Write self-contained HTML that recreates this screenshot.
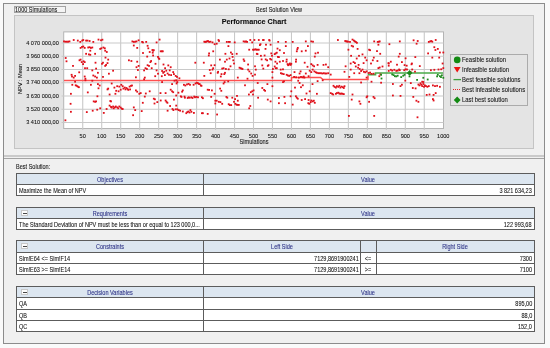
<!DOCTYPE html>
<html><head><meta charset="utf-8">
<style>
*{margin:0;padding:0;box-sizing:border-box}
html,body{width:550px;height:348px;overflow:hidden;background:#fafafa;font-family:"Liberation Sans",sans-serif;font-size:6.3px;color:#141414}
.a{position:absolute}
.t{position:absolute;white-space:nowrap;line-height:1;transform:scaleX(0.88);transform-origin:0 0;-webkit-text-stroke:0.08px currentColor}
.t.r{transform-origin:100% 0}
.t.c{width:120px;text-align:center;transform-origin:50% 0}
</style></head><body>
<div class="a" style="left:3px;top:3px;width:542px;height:341px;border:1px solid #8c8c8c;background:#f0f0f0"></div>
<div class="a" style="left:14px;top:6px;width:52px;height:7px;border:1px solid #a2a2a2;background:#f4f4f4"></div>
<div class="t" style="left:14.6px;top:7.0px;transform:scaleX(0.875)">1000 Simulations</div>
<div class="t" style="left:256px;top:7.3px;">Best Solution View</div>
<div class="a" style="left:14px;top:14.6px;width:520px;height:134.4px;border:1px solid #c4c4c4;background:#e4e4e4"></div>
<div class="t c" style="left:194.00px;top:18.2px;font-size:7.2px;font-weight:bold;color:#0c0c0c;transform:none">Performance Chart</div>
<div class="t r" style="right:491.20px;top:40.5px;font-size:5.6px;transform:none">4 070 000,00</div>
<div class="t r" style="right:491.20px;top:53.7px;font-size:5.6px;transform:none">3 960 000,00</div>
<div class="t r" style="right:491.20px;top:67.0px;font-size:5.6px;transform:none">3 850 000,00</div>
<div class="t r" style="right:491.20px;top:80.3px;font-size:5.6px;transform:none">3 740 000,00</div>
<div class="t r" style="right:491.20px;top:93.5px;font-size:5.6px;transform:none">3 630 000,00</div>
<div class="t r" style="right:491.20px;top:106.8px;font-size:5.6px;transform:none">3 520 000,00</div>
<div class="t r" style="right:491.20px;top:120.1px;font-size:5.6px;transform:none">3 410 000,00</div>
<div class="t c" style="left:22.73px;top:133.7px;font-size:5.6px;transform:none">50</div>
<div class="t c" style="left:41.70px;top:133.7px;font-size:5.6px;transform:none">100</div>
<div class="t c" style="left:60.68px;top:133.7px;font-size:5.6px;transform:none">150</div>
<div class="t c" style="left:79.65px;top:133.7px;font-size:5.6px;transform:none">200</div>
<div class="t c" style="left:98.63px;top:133.7px;font-size:5.6px;transform:none">250</div>
<div class="t c" style="left:117.60px;top:133.7px;font-size:5.6px;transform:none">300</div>
<div class="t c" style="left:136.58px;top:133.7px;font-size:5.6px;transform:none">350</div>
<div class="t c" style="left:155.55px;top:133.7px;font-size:5.6px;transform:none">400</div>
<div class="t c" style="left:174.53px;top:133.7px;font-size:5.6px;transform:none">450</div>
<div class="t c" style="left:193.50px;top:133.7px;font-size:5.6px;transform:none">500</div>
<div class="t c" style="left:212.48px;top:133.7px;font-size:5.6px;transform:none">550</div>
<div class="t c" style="left:231.46px;top:133.7px;font-size:5.6px;transform:none">600</div>
<div class="t c" style="left:250.43px;top:133.7px;font-size:5.6px;transform:none">650</div>
<div class="t c" style="left:269.41px;top:133.7px;font-size:5.6px;transform:none">700</div>
<div class="t c" style="left:288.38px;top:133.7px;font-size:5.6px;transform:none">750</div>
<div class="t c" style="left:307.36px;top:133.7px;font-size:5.6px;transform:none">800</div>
<div class="t c" style="left:326.33px;top:133.7px;font-size:5.6px;transform:none">850</div>
<div class="t c" style="left:345.31px;top:133.7px;font-size:5.6px;transform:none">900</div>
<div class="t c" style="left:364.28px;top:133.7px;font-size:5.6px;transform:none">950</div>
<div class="t c" style="left:383.26px;top:133.7px;font-size:5.6px;transform:none">1000</div>
<div class="t c" style="left:193.90px;top:139.0px;font-size:6.4px">Simulations</div>
<div class="t" style="left:21.3px;top:79px;transform-origin:50% 50%;font-size:5.6px;transform:translate(-50%,-50%) rotate(-90deg)">NPV : Mean</div>
<svg class="a" style="left:0;top:0" width="550" height="348" viewBox="0 0 550 348"><rect x="63.7" y="31.9" width="379.8" height="96.6" fill="#fff" stroke="#b4b4b4" stroke-width="1"/><line x1="82.73" y1="32" x2="82.73" y2="130" stroke="#c9c9c9" stroke-width="1.1"/><line x1="101.7" y1="32" x2="101.7" y2="130" stroke="#c9c9c9" stroke-width="1.1"/><line x1="120.68" y1="32" x2="120.68" y2="130" stroke="#c9c9c9" stroke-width="1.1"/><line x1="139.65" y1="32" x2="139.65" y2="130" stroke="#c9c9c9" stroke-width="1.1"/><line x1="158.63" y1="32" x2="158.63" y2="130" stroke="#c9c9c9" stroke-width="1.1"/><line x1="177.6" y1="32" x2="177.6" y2="130" stroke="#c9c9c9" stroke-width="1.1"/><line x1="196.58" y1="32" x2="196.58" y2="130" stroke="#c9c9c9" stroke-width="1.1"/><line x1="215.55" y1="32" x2="215.55" y2="130" stroke="#c9c9c9" stroke-width="1.1"/><line x1="234.53" y1="32" x2="234.53" y2="130" stroke="#c9c9c9" stroke-width="1.1"/><line x1="253.5" y1="32" x2="253.5" y2="130" stroke="#c9c9c9" stroke-width="1.1"/><line x1="272.48" y1="32" x2="272.48" y2="130" stroke="#c9c9c9" stroke-width="1.1"/><line x1="291.46" y1="32" x2="291.46" y2="130" stroke="#c9c9c9" stroke-width="1.1"/><line x1="310.43" y1="32" x2="310.43" y2="130" stroke="#c9c9c9" stroke-width="1.1"/><line x1="329.41" y1="32" x2="329.41" y2="130" stroke="#c9c9c9" stroke-width="1.1"/><line x1="348.38" y1="32" x2="348.38" y2="130" stroke="#c9c9c9" stroke-width="1.1"/><line x1="367.36" y1="32" x2="367.36" y2="130" stroke="#c9c9c9" stroke-width="1.1"/><line x1="386.33" y1="32" x2="386.33" y2="130" stroke="#c9c9c9" stroke-width="1.1"/><line x1="405.31" y1="32" x2="405.31" y2="130" stroke="#c9c9c9" stroke-width="1.1"/><line x1="424.28" y1="32" x2="424.28" y2="130" stroke="#c9c9c9" stroke-width="1.1"/><line x1="61.5" y1="42.95" x2="443.5" y2="42.95" stroke="#c9c9c9" stroke-width="1.1"/><line x1="61.5" y1="56.22" x2="443.5" y2="56.22" stroke="#c9c9c9" stroke-width="1.1"/><line x1="61.5" y1="69.49" x2="443.5" y2="69.49" stroke="#c9c9c9" stroke-width="1.1"/><line x1="61.5" y1="82.76" x2="443.5" y2="82.76" stroke="#c9c9c9" stroke-width="1.1"/><line x1="61.5" y1="96.03" x2="443.5" y2="96.03" stroke="#c9c9c9" stroke-width="1.1"/><line x1="61.5" y1="109.3" x2="443.5" y2="109.3" stroke="#c9c9c9" stroke-width="1.1"/><line x1="61.5" y1="122.57" x2="443.5" y2="122.57" stroke="#c9c9c9" stroke-width="1.1"/><polyline points="64,80.5 291.5,80.5 291.5,77.4 320.5,77.4 323,79.5 368,79.5 368,75.5" fill="none" stroke="#ff5050" stroke-width="1.5"/><polyline points="368,74.6 375.5,74.6 375.5,73 443,73" fill="none" stroke="#4aab4a" stroke-width="1.6"/><rect x="63.1" y="40.5" width="1.8" height="1.8" fill="#e0101a"/><rect x="64.5" y="40.8" width="1.8" height="1.8" fill="#e0101a"/><rect x="65.9" y="40.8" width="1.8" height="1.8" fill="#e0101a"/><rect x="67.2" y="40.8" width="1.8" height="1.8" fill="#e0101a"/><rect x="68.6" y="40.5" width="1.8" height="1.8" fill="#e0101a"/><rect x="72.8" y="39.1" width="1.8" height="1.8" fill="#e0101a"/><rect x="76.9" y="39.7" width="1.8" height="1.8" fill="#e0101a"/><rect x="79.4" y="41.0" width="1.8" height="1.8" fill="#e0101a"/><rect x="81.3" y="39.7" width="1.8" height="1.8" fill="#e0101a"/><rect x="82.4" y="39.1" width="1.8" height="1.8" fill="#e0101a"/><rect x="85.2" y="39.7" width="1.8" height="1.8" fill="#e0101a"/><rect x="86.6" y="39.7" width="1.8" height="1.8" fill="#e0101a"/><rect x="88.7" y="40.1" width="1.8" height="1.8" fill="#e0101a"/><rect x="92.4" y="41.0" width="1.8" height="1.8" fill="#e0101a"/><rect x="97.6" y="38.7" width="1.8" height="1.8" fill="#e0101a"/><rect x="100.1" y="39.4" width="1.8" height="1.8" fill="#e0101a"/><rect x="101.5" y="38.8" width="1.8" height="1.8" fill="#e0101a"/><rect x="131.5" y="40.5" width="1.8" height="1.8" fill="#e0101a"/><rect x="132.9" y="41.0" width="1.8" height="1.8" fill="#e0101a"/><rect x="134.3" y="40.8" width="1.8" height="1.8" fill="#e0101a"/><rect x="135.6" y="40.5" width="1.8" height="1.8" fill="#e0101a"/><rect x="137.7" y="39.4" width="1.8" height="1.8" fill="#e0101a"/><rect x="79.7" y="47.0" width="1.8" height="1.8" fill="#e0101a"/><rect x="81.1" y="46.0" width="1.8" height="1.8" fill="#e0101a"/><rect x="82.4" y="45.6" width="1.8" height="1.8" fill="#e0101a"/><rect x="83.8" y="47.0" width="1.8" height="1.8" fill="#e0101a"/><rect x="87.3" y="46.6" width="1.8" height="1.8" fill="#e0101a"/><rect x="88.7" y="46.3" width="1.8" height="1.8" fill="#e0101a"/><rect x="90.0" y="47.0" width="1.8" height="1.8" fill="#e0101a"/><rect x="91.4" y="46.6" width="1.8" height="1.8" fill="#e0101a"/><rect x="99.3" y="48.0" width="1.8" height="1.8" fill="#e0101a"/><rect x="100.4" y="47.4" width="1.8" height="1.8" fill="#e0101a"/><rect x="102.5" y="46.6" width="1.8" height="1.8" fill="#e0101a"/><rect x="103.9" y="47.4" width="1.8" height="1.8" fill="#e0101a"/><rect x="132.9" y="44.6" width="1.8" height="1.8" fill="#e0101a"/><rect x="136.3" y="47.0" width="1.8" height="1.8" fill="#e0101a"/><rect x="89.4" y="49.8" width="1.8" height="1.8" fill="#e0101a"/><rect x="85.2" y="52.9" width="1.8" height="1.8" fill="#e0101a"/><rect x="88.0" y="53.5" width="1.8" height="1.8" fill="#e0101a"/><rect x="89.4" y="53.9" width="1.8" height="1.8" fill="#e0101a"/><rect x="94.2" y="52.9" width="1.8" height="1.8" fill="#e0101a"/><rect x="104.3" y="49.8" width="1.8" height="1.8" fill="#e0101a"/><rect x="105.9" y="51.1" width="1.8" height="1.8" fill="#e0101a"/><rect x="64.8" y="57.1" width="1.8" height="1.8" fill="#e0101a"/><rect x="65.6" y="60.4" width="1.8" height="1.8" fill="#e0101a"/><rect x="78.6" y="59.4" width="1.8" height="1.8" fill="#e0101a"/><rect x="79.7" y="58.7" width="1.8" height="1.8" fill="#e0101a"/><rect x="80.8" y="61.2" width="1.8" height="1.8" fill="#e0101a"/><rect x="82.7" y="60.4" width="1.8" height="1.8" fill="#e0101a"/><rect x="83.8" y="61.2" width="1.8" height="1.8" fill="#e0101a"/><rect x="94.6" y="61.8" width="1.8" height="1.8" fill="#e0101a"/><rect x="101.1" y="62.9" width="1.8" height="1.8" fill="#e0101a"/><rect x="102.1" y="61.8" width="1.8" height="1.8" fill="#e0101a"/><rect x="104.6" y="56.7" width="1.8" height="1.8" fill="#e0101a"/><rect x="107.3" y="58.7" width="1.8" height="1.8" fill="#e0101a"/><rect x="128.0" y="59.4" width="1.8" height="1.8" fill="#e0101a"/><rect x="130.5" y="60.1" width="1.8" height="1.8" fill="#e0101a"/><rect x="136.3" y="60.8" width="1.8" height="1.8" fill="#e0101a"/><rect x="72.1" y="65.0" width="1.8" height="1.8" fill="#e0101a"/><rect x="82.2" y="63.2" width="1.8" height="1.8" fill="#e0101a"/><rect x="84.1" y="67.3" width="1.8" height="1.8" fill="#e0101a"/><rect x="86.3" y="67.3" width="1.8" height="1.8" fill="#e0101a"/><rect x="91.4" y="69.5" width="1.8" height="1.8" fill="#e0101a"/><rect x="95.2" y="67.7" width="1.8" height="1.8" fill="#e0101a"/><rect x="104.3" y="65.0" width="1.8" height="1.8" fill="#e0101a"/><rect x="105.2" y="64.0" width="1.8" height="1.8" fill="#e0101a"/><rect x="106.6" y="62.2" width="1.8" height="1.8" fill="#e0101a"/><rect x="112.2" y="69.8" width="1.8" height="1.8" fill="#e0101a"/><rect x="135.6" y="66.3" width="1.8" height="1.8" fill="#e0101a"/><rect x="137.7" y="65.0" width="1.8" height="1.8" fill="#e0101a"/><rect x="137.0" y="69.1" width="1.8" height="1.8" fill="#e0101a"/><rect x="78.3" y="71.4" width="1.8" height="1.8" fill="#e0101a"/><rect x="97.0" y="71.9" width="1.8" height="1.8" fill="#e0101a"/><rect x="92.4" y="74.6" width="1.8" height="1.8" fill="#e0101a"/><rect x="94.2" y="75.6" width="1.8" height="1.8" fill="#e0101a"/><rect x="96.0" y="76.7" width="1.8" height="1.8" fill="#e0101a"/><rect x="70.7" y="73.9" width="1.8" height="1.8" fill="#e0101a"/><rect x="71.1" y="75.6" width="1.8" height="1.8" fill="#e0101a"/><rect x="72.8" y="76.7" width="1.8" height="1.8" fill="#e0101a"/><rect x="74.2" y="75.0" width="1.8" height="1.8" fill="#e0101a"/><rect x="83.8" y="75.6" width="1.8" height="1.8" fill="#e0101a"/><rect x="84.5" y="77.8" width="1.8" height="1.8" fill="#e0101a"/><rect x="102.1" y="76.0" width="1.8" height="1.8" fill="#e0101a"/><rect x="108.0" y="72.8" width="1.8" height="1.8" fill="#e0101a"/><rect x="135.0" y="76.4" width="1.8" height="1.8" fill="#e0101a"/><rect x="74.2" y="80.8" width="1.8" height="1.8" fill="#e0101a"/><rect x="84.5" y="79.4" width="1.8" height="1.8" fill="#e0101a"/><rect x="91.4" y="79.8" width="1.8" height="1.8" fill="#e0101a"/><rect x="71.4" y="83.9" width="1.8" height="1.8" fill="#e0101a"/><rect x="74.8" y="84.4" width="1.8" height="1.8" fill="#e0101a"/><rect x="75.8" y="84.9" width="1.8" height="1.8" fill="#e0101a"/><rect x="76.9" y="85.7" width="1.8" height="1.8" fill="#e0101a"/><rect x="78.0" y="86.3" width="1.8" height="1.8" fill="#e0101a"/><rect x="90.0" y="83.9" width="1.8" height="1.8" fill="#e0101a"/><rect x="97.0" y="83.2" width="1.8" height="1.8" fill="#e0101a"/><rect x="98.8" y="84.6" width="1.8" height="1.8" fill="#e0101a"/><rect x="110.8" y="82.6" width="1.8" height="1.8" fill="#e0101a"/><rect x="113.5" y="86.7" width="1.8" height="1.8" fill="#e0101a"/><rect x="116.3" y="85.3" width="1.8" height="1.8" fill="#e0101a"/><rect x="118.4" y="85.7" width="1.8" height="1.8" fill="#e0101a"/><rect x="120.4" y="83.9" width="1.8" height="1.8" fill="#e0101a"/><rect x="121.8" y="85.3" width="1.8" height="1.8" fill="#e0101a"/><rect x="122.5" y="87.7" width="1.8" height="1.8" fill="#e0101a"/><rect x="123.9" y="86.7" width="1.8" height="1.8" fill="#e0101a"/><rect x="124.6" y="88.5" width="1.8" height="1.8" fill="#e0101a"/><rect x="125.6" y="87.1" width="1.8" height="1.8" fill="#e0101a"/><rect x="126.7" y="88.1" width="1.8" height="1.8" fill="#e0101a"/><rect x="127.4" y="89.0" width="1.8" height="1.8" fill="#e0101a"/><rect x="128.7" y="85.7" width="1.8" height="1.8" fill="#e0101a"/><rect x="130.1" y="84.9" width="1.8" height="1.8" fill="#e0101a"/><rect x="131.1" y="84.6" width="1.8" height="1.8" fill="#e0101a"/><rect x="129.2" y="88.5" width="1.8" height="1.8" fill="#e0101a"/><rect x="119.8" y="88.8" width="1.8" height="1.8" fill="#e0101a"/><rect x="135.0" y="89.5" width="1.8" height="1.8" fill="#e0101a"/><rect x="136.3" y="90.8" width="1.8" height="1.8" fill="#e0101a"/><rect x="138.4" y="92.9" width="1.8" height="1.8" fill="#e0101a"/><rect x="97.6" y="87.4" width="1.8" height="1.8" fill="#e0101a"/><rect x="106.6" y="88.5" width="1.8" height="1.8" fill="#e0101a"/><rect x="107.3" y="87.7" width="1.8" height="1.8" fill="#e0101a"/><rect x="70.0" y="92.9" width="1.8" height="1.8" fill="#e0101a"/><rect x="86.9" y="91.5" width="1.8" height="1.8" fill="#e0101a"/><rect x="108.7" y="93.6" width="1.8" height="1.8" fill="#e0101a"/><rect x="114.5" y="92.9" width="1.8" height="1.8" fill="#e0101a"/><rect x="115.3" y="89.9" width="1.8" height="1.8" fill="#e0101a"/><rect x="117.7" y="90.4" width="1.8" height="1.8" fill="#e0101a"/><rect x="96.5" y="95.4" width="1.8" height="1.8" fill="#e0101a"/><rect x="92.8" y="100.5" width="1.8" height="1.8" fill="#e0101a"/><rect x="94.2" y="100.9" width="1.8" height="1.8" fill="#e0101a"/><rect x="95.2" y="100.5" width="1.8" height="1.8" fill="#e0101a"/><rect x="109.4" y="100.1" width="1.8" height="1.8" fill="#e0101a"/><rect x="110.1" y="100.5" width="1.8" height="1.8" fill="#e0101a"/><rect x="69.7" y="102.9" width="1.8" height="1.8" fill="#e0101a"/><rect x="108.7" y="104.7" width="1.8" height="1.8" fill="#e0101a"/><rect x="110.1" y="106.0" width="1.8" height="1.8" fill="#e0101a"/><rect x="110.8" y="106.7" width="1.8" height="1.8" fill="#e0101a"/><rect x="112.2" y="105.6" width="1.8" height="1.8" fill="#e0101a"/><rect x="112.8" y="107.4" width="1.8" height="1.8" fill="#e0101a"/><rect x="114.0" y="106.5" width="1.8" height="1.8" fill="#e0101a"/><rect x="114.9" y="105.6" width="1.8" height="1.8" fill="#e0101a"/><rect x="116.3" y="106.5" width="1.8" height="1.8" fill="#e0101a"/><rect x="117.3" y="107.4" width="1.8" height="1.8" fill="#e0101a"/><rect x="118.4" y="105.6" width="1.8" height="1.8" fill="#e0101a"/><rect x="119.8" y="106.7" width="1.8" height="1.8" fill="#e0101a"/><rect x="120.9" y="107.8" width="1.8" height="1.8" fill="#e0101a"/><rect x="121.8" y="108.1" width="1.8" height="1.8" fill="#e0101a"/><rect x="105.7" y="108.1" width="1.8" height="1.8" fill="#e0101a"/><rect x="99.3" y="107.4" width="1.8" height="1.8" fill="#e0101a"/><rect x="96.3" y="108.8" width="1.8" height="1.8" fill="#e0101a"/><rect x="91.8" y="109.8" width="1.8" height="1.8" fill="#e0101a"/><rect x="85.9" y="111.2" width="1.8" height="1.8" fill="#e0101a"/><rect x="70.0" y="110.9" width="1.8" height="1.8" fill="#e0101a"/><rect x="132.9" y="106.5" width="1.8" height="1.8" fill="#e0101a"/><rect x="134.3" y="109.2" width="1.8" height="1.8" fill="#e0101a"/><rect x="102.9" y="112.0" width="1.8" height="1.8" fill="#e0101a"/><rect x="132.2" y="114.3" width="1.8" height="1.8" fill="#e0101a"/><rect x="64.5" y="119.4" width="1.8" height="1.8" fill="#e0101a"/><rect x="141.2" y="41.0" width="1.8" height="1.8" fill="#e0101a"/><rect x="142.1" y="41.5" width="1.8" height="1.8" fill="#e0101a"/><rect x="145.3" y="41.0" width="1.8" height="1.8" fill="#e0101a"/><rect x="155.7" y="41.5" width="1.8" height="1.8" fill="#e0101a"/><rect x="158.7" y="38.7" width="1.8" height="1.8" fill="#e0101a"/><rect x="203.4" y="40.8" width="1.8" height="1.8" fill="#e0101a"/><rect x="204.3" y="41.0" width="1.8" height="1.8" fill="#e0101a"/><rect x="205.2" y="40.8" width="1.8" height="1.8" fill="#e0101a"/><rect x="206.1" y="40.5" width="1.8" height="1.8" fill="#e0101a"/><rect x="207.1" y="40.1" width="1.8" height="1.8" fill="#e0101a"/><rect x="208.2" y="41.0" width="1.8" height="1.8" fill="#e0101a"/><rect x="209.6" y="40.8" width="1.8" height="1.8" fill="#e0101a"/><rect x="211.6" y="41.5" width="1.8" height="1.8" fill="#e0101a"/><rect x="213.7" y="43.3" width="1.8" height="1.8" fill="#e0101a"/><rect x="146.7" y="44.9" width="1.8" height="1.8" fill="#e0101a"/><rect x="147.4" y="47.4" width="1.8" height="1.8" fill="#e0101a"/><rect x="148.8" y="51.1" width="1.8" height="1.8" fill="#e0101a"/><rect x="151.5" y="49.1" width="1.8" height="1.8" fill="#e0101a"/><rect x="152.2" y="49.8" width="1.8" height="1.8" fill="#e0101a"/><rect x="152.9" y="49.3" width="1.8" height="1.8" fill="#e0101a"/><rect x="151.8" y="51.8" width="1.8" height="1.8" fill="#e0101a"/><rect x="142.1" y="52.1" width="1.8" height="1.8" fill="#e0101a"/><rect x="159.8" y="50.4" width="1.8" height="1.8" fill="#e0101a"/><rect x="160.9" y="50.4" width="1.8" height="1.8" fill="#e0101a"/><rect x="161.9" y="50.4" width="1.8" height="1.8" fill="#e0101a"/><rect x="146.3" y="55.7" width="1.8" height="1.8" fill="#e0101a"/><rect x="152.2" y="54.6" width="1.8" height="1.8" fill="#e0101a"/><rect x="157.1" y="56.0" width="1.8" height="1.8" fill="#e0101a"/><rect x="157.8" y="57.4" width="1.8" height="1.8" fill="#e0101a"/><rect x="158.4" y="58.0" width="1.8" height="1.8" fill="#e0101a"/><rect x="208.2" y="52.5" width="1.8" height="1.8" fill="#e0101a"/><rect x="207.9" y="54.6" width="1.8" height="1.8" fill="#e0101a"/><rect x="212.3" y="50.4" width="1.8" height="1.8" fill="#e0101a"/><rect x="150.2" y="60.1" width="1.8" height="1.8" fill="#e0101a"/><rect x="149.5" y="61.2" width="1.8" height="1.8" fill="#e0101a"/><rect x="154.6" y="62.9" width="1.8" height="1.8" fill="#e0101a"/><rect x="146.7" y="64.3" width="1.8" height="1.8" fill="#e0101a"/><rect x="148.1" y="65.0" width="1.8" height="1.8" fill="#e0101a"/><rect x="144.6" y="67.3" width="1.8" height="1.8" fill="#e0101a"/><rect x="146.0" y="68.1" width="1.8" height="1.8" fill="#e0101a"/><rect x="143.2" y="69.5" width="1.8" height="1.8" fill="#e0101a"/><rect x="150.8" y="67.3" width="1.8" height="1.8" fill="#e0101a"/><rect x="162.6" y="63.6" width="1.8" height="1.8" fill="#e0101a"/><rect x="167.4" y="64.5" width="1.8" height="1.8" fill="#e0101a"/><rect x="169.8" y="66.3" width="1.8" height="1.8" fill="#e0101a"/><rect x="164.2" y="67.3" width="1.8" height="1.8" fill="#e0101a"/><rect x="155.7" y="69.5" width="1.8" height="1.8" fill="#e0101a"/><rect x="161.2" y="70.1" width="1.8" height="1.8" fill="#e0101a"/><rect x="162.3" y="71.9" width="1.8" height="1.8" fill="#e0101a"/><rect x="163.3" y="70.9" width="1.8" height="1.8" fill="#e0101a"/><rect x="165.4" y="69.8" width="1.8" height="1.8" fill="#e0101a"/><rect x="168.8" y="69.5" width="1.8" height="1.8" fill="#e0101a"/><rect x="172.3" y="71.2" width="1.8" height="1.8" fill="#e0101a"/><rect x="194.4" y="61.8" width="1.8" height="1.8" fill="#e0101a"/><rect x="202.9" y="61.8" width="1.8" height="1.8" fill="#e0101a"/><rect x="210.3" y="64.5" width="1.8" height="1.8" fill="#e0101a"/><rect x="213.7" y="64.3" width="1.8" height="1.8" fill="#e0101a"/><rect x="212.3" y="67.3" width="1.8" height="1.8" fill="#e0101a"/><rect x="211.6" y="68.7" width="1.8" height="1.8" fill="#e0101a"/><rect x="157.1" y="72.8" width="1.8" height="1.8" fill="#e0101a"/><rect x="166.7" y="72.6" width="1.8" height="1.8" fill="#e0101a"/><rect x="168.1" y="73.9" width="1.8" height="1.8" fill="#e0101a"/><rect x="170.2" y="74.2" width="1.8" height="1.8" fill="#e0101a"/><rect x="173.0" y="73.2" width="1.8" height="1.8" fill="#e0101a"/><rect x="174.8" y="75.0" width="1.8" height="1.8" fill="#e0101a"/><rect x="176.1" y="76.0" width="1.8" height="1.8" fill="#e0101a"/><rect x="178.5" y="77.4" width="1.8" height="1.8" fill="#e0101a"/><rect x="154.3" y="75.3" width="1.8" height="1.8" fill="#e0101a"/><rect x="160.9" y="75.3" width="1.8" height="1.8" fill="#e0101a"/><rect x="164.0" y="74.2" width="1.8" height="1.8" fill="#e0101a"/><rect x="143.9" y="76.7" width="1.8" height="1.8" fill="#e0101a"/><rect x="143.2" y="78.4" width="1.8" height="1.8" fill="#e0101a"/><rect x="203.4" y="75.0" width="1.8" height="1.8" fill="#e0101a"/><rect x="209.8" y="72.3" width="1.8" height="1.8" fill="#e0101a"/><rect x="208.9" y="69.1" width="1.8" height="1.8" fill="#e0101a"/><rect x="161.2" y="81.2" width="1.8" height="1.8" fill="#e0101a"/><rect x="173.6" y="79.8" width="1.8" height="1.8" fill="#e0101a"/><rect x="175.3" y="79.4" width="1.8" height="1.8" fill="#e0101a"/><rect x="176.4" y="81.2" width="1.8" height="1.8" fill="#e0101a"/><rect x="175.7" y="82.6" width="1.8" height="1.8" fill="#e0101a"/><rect x="171.2" y="83.2" width="1.8" height="1.8" fill="#e0101a"/><rect x="183.0" y="83.9" width="1.8" height="1.8" fill="#e0101a"/><rect x="184.4" y="84.6" width="1.8" height="1.8" fill="#e0101a"/><rect x="186.1" y="83.5" width="1.8" height="1.8" fill="#e0101a"/><rect x="187.7" y="83.0" width="1.8" height="1.8" fill="#e0101a"/><rect x="189.1" y="83.9" width="1.8" height="1.8" fill="#e0101a"/><rect x="192.7" y="83.9" width="1.8" height="1.8" fill="#e0101a"/><rect x="194.6" y="82.6" width="1.8" height="1.8" fill="#e0101a"/><rect x="195.8" y="81.9" width="1.8" height="1.8" fill="#e0101a"/><rect x="196.9" y="82.1" width="1.8" height="1.8" fill="#e0101a"/><rect x="197.8" y="83.0" width="1.8" height="1.8" fill="#e0101a"/><rect x="198.8" y="83.2" width="1.8" height="1.8" fill="#e0101a"/><rect x="199.9" y="84.6" width="1.8" height="1.8" fill="#e0101a"/><rect x="200.6" y="84.9" width="1.8" height="1.8" fill="#e0101a"/><rect x="139.8" y="92.2" width="1.8" height="1.8" fill="#e0101a"/><rect x="144.9" y="92.6" width="1.8" height="1.8" fill="#e0101a"/><rect x="148.8" y="90.4" width="1.8" height="1.8" fill="#e0101a"/><rect x="159.6" y="92.2" width="1.8" height="1.8" fill="#e0101a"/><rect x="164.7" y="92.2" width="1.8" height="1.8" fill="#e0101a"/><rect x="169.8" y="88.8" width="1.8" height="1.8" fill="#e0101a"/><rect x="171.2" y="90.4" width="1.8" height="1.8" fill="#e0101a"/><rect x="172.3" y="91.3" width="1.8" height="1.8" fill="#e0101a"/><rect x="181.2" y="90.8" width="1.8" height="1.8" fill="#e0101a"/><rect x="181.9" y="89.5" width="1.8" height="1.8" fill="#e0101a"/><rect x="177.5" y="91.8" width="1.8" height="1.8" fill="#e0101a"/><rect x="175.3" y="94.6" width="1.8" height="1.8" fill="#e0101a"/><rect x="179.9" y="95.4" width="1.8" height="1.8" fill="#e0101a"/><rect x="180.6" y="96.0" width="1.8" height="1.8" fill="#e0101a"/><rect x="183.6" y="95.7" width="1.8" height="1.8" fill="#e0101a"/><rect x="184.0" y="96.8" width="1.8" height="1.8" fill="#e0101a"/><rect x="186.8" y="97.1" width="1.8" height="1.8" fill="#e0101a"/><rect x="187.7" y="96.4" width="1.8" height="1.8" fill="#e0101a"/><rect x="188.8" y="96.8" width="1.8" height="1.8" fill="#e0101a"/><rect x="190.5" y="96.4" width="1.8" height="1.8" fill="#e0101a"/><rect x="191.6" y="97.1" width="1.8" height="1.8" fill="#e0101a"/><rect x="193.3" y="95.7" width="1.8" height="1.8" fill="#e0101a"/><rect x="194.1" y="96.4" width="1.8" height="1.8" fill="#e0101a"/><rect x="195.5" y="96.0" width="1.8" height="1.8" fill="#e0101a"/><rect x="197.1" y="96.4" width="1.8" height="1.8" fill="#e0101a"/><rect x="201.0" y="96.4" width="1.8" height="1.8" fill="#e0101a"/><rect x="202.0" y="97.3" width="1.8" height="1.8" fill="#e0101a"/><rect x="206.8" y="88.8" width="1.8" height="1.8" fill="#e0101a"/><rect x="208.2" y="89.0" width="1.8" height="1.8" fill="#e0101a"/><rect x="211.0" y="89.5" width="1.8" height="1.8" fill="#e0101a"/><rect x="213.7" y="92.9" width="1.8" height="1.8" fill="#e0101a"/><rect x="210.3" y="96.0" width="1.8" height="1.8" fill="#e0101a"/><rect x="143.9" y="95.7" width="1.8" height="1.8" fill="#e0101a"/><rect x="152.9" y="97.8" width="1.8" height="1.8" fill="#e0101a"/><rect x="154.0" y="98.4" width="1.8" height="1.8" fill="#e0101a"/><rect x="153.6" y="102.6" width="1.8" height="1.8" fill="#e0101a"/><rect x="156.4" y="101.2" width="1.8" height="1.8" fill="#e0101a"/><rect x="159.8" y="99.6" width="1.8" height="1.8" fill="#e0101a"/><rect x="164.7" y="99.6" width="1.8" height="1.8" fill="#e0101a"/><rect x="165.6" y="100.9" width="1.8" height="1.8" fill="#e0101a"/><rect x="166.5" y="101.9" width="1.8" height="1.8" fill="#e0101a"/><rect x="173.0" y="98.7" width="1.8" height="1.8" fill="#e0101a"/><rect x="141.9" y="101.9" width="1.8" height="1.8" fill="#e0101a"/><rect x="169.2" y="105.1" width="1.8" height="1.8" fill="#e0101a"/><rect x="175.3" y="104.7" width="1.8" height="1.8" fill="#e0101a"/><rect x="214.4" y="99.8" width="1.8" height="1.8" fill="#e0101a"/><rect x="214.4" y="102.6" width="1.8" height="1.8" fill="#e0101a"/><rect x="140.8" y="110.2" width="1.8" height="1.8" fill="#e0101a"/><rect x="166.7" y="109.8" width="1.8" height="1.8" fill="#e0101a"/><rect x="171.6" y="108.1" width="1.8" height="1.8" fill="#e0101a"/><rect x="172.5" y="109.2" width="1.8" height="1.8" fill="#e0101a"/><rect x="174.8" y="108.4" width="1.8" height="1.8" fill="#e0101a"/><rect x="176.4" y="108.4" width="1.8" height="1.8" fill="#e0101a"/><rect x="177.8" y="109.2" width="1.8" height="1.8" fill="#e0101a"/><rect x="179.2" y="109.8" width="1.8" height="1.8" fill="#e0101a"/><rect x="181.9" y="110.6" width="1.8" height="1.8" fill="#e0101a"/><rect x="185.4" y="112.3" width="1.8" height="1.8" fill="#e0101a"/><rect x="186.4" y="111.2" width="1.8" height="1.8" fill="#e0101a"/><rect x="187.5" y="110.6" width="1.8" height="1.8" fill="#e0101a"/><rect x="188.6" y="111.6" width="1.8" height="1.8" fill="#e0101a"/><rect x="189.5" y="109.2" width="1.8" height="1.8" fill="#e0101a"/><rect x="190.5" y="110.9" width="1.8" height="1.8" fill="#e0101a"/><rect x="193.0" y="112.0" width="1.8" height="1.8" fill="#e0101a"/><rect x="201.0" y="112.3" width="1.8" height="1.8" fill="#e0101a"/><rect x="202.0" y="112.3" width="1.8" height="1.8" fill="#e0101a"/><rect x="206.8" y="113.0" width="1.8" height="1.8" fill="#e0101a"/><rect x="217.6" y="39.1" width="1.8" height="1.8" fill="#e0101a"/><rect x="218.1" y="40.1" width="1.8" height="1.8" fill="#e0101a"/><rect x="225.9" y="41.0" width="1.8" height="1.8" fill="#e0101a"/><rect x="227.8" y="41.0" width="1.8" height="1.8" fill="#e0101a"/><rect x="228.9" y="41.0" width="1.8" height="1.8" fill="#e0101a"/><rect x="233.8" y="41.5" width="1.8" height="1.8" fill="#e0101a"/><rect x="242.7" y="40.5" width="1.8" height="1.8" fill="#e0101a"/><rect x="244.1" y="40.8" width="1.8" height="1.8" fill="#e0101a"/><rect x="245.2" y="40.5" width="1.8" height="1.8" fill="#e0101a"/><rect x="246.2" y="41.0" width="1.8" height="1.8" fill="#e0101a"/><rect x="249.4" y="39.1" width="1.8" height="1.8" fill="#e0101a"/><rect x="251.3" y="41.5" width="1.8" height="1.8" fill="#e0101a"/><rect x="253.5" y="39.1" width="1.8" height="1.8" fill="#e0101a"/><rect x="257.9" y="39.1" width="1.8" height="1.8" fill="#e0101a"/><rect x="262.1" y="39.1" width="1.8" height="1.8" fill="#e0101a"/><rect x="262.8" y="39.1" width="1.8" height="1.8" fill="#e0101a"/><rect x="268.3" y="39.1" width="1.8" height="1.8" fill="#e0101a"/><rect x="268.7" y="39.7" width="1.8" height="1.8" fill="#e0101a"/><rect x="277.3" y="41.0" width="1.8" height="1.8" fill="#e0101a"/><rect x="284.9" y="41.0" width="1.8" height="1.8" fill="#e0101a"/><rect x="215.8" y="42.8" width="1.8" height="1.8" fill="#e0101a"/><rect x="227.5" y="45.2" width="1.8" height="1.8" fill="#e0101a"/><rect x="248.3" y="48.8" width="1.8" height="1.8" fill="#e0101a"/><rect x="252.1" y="48.8" width="1.8" height="1.8" fill="#e0101a"/><rect x="253.1" y="48.8" width="1.8" height="1.8" fill="#e0101a"/><rect x="254.5" y="48.4" width="1.8" height="1.8" fill="#e0101a"/><rect x="255.4" y="48.8" width="1.8" height="1.8" fill="#e0101a"/><rect x="256.6" y="48.8" width="1.8" height="1.8" fill="#e0101a"/><rect x="257.9" y="48.8" width="1.8" height="1.8" fill="#e0101a"/><rect x="259.0" y="44.2" width="1.8" height="1.8" fill="#e0101a"/><rect x="259.6" y="43.3" width="1.8" height="1.8" fill="#e0101a"/><rect x="265.1" y="43.8" width="1.8" height="1.8" fill="#e0101a"/><rect x="269.7" y="43.8" width="1.8" height="1.8" fill="#e0101a"/><rect x="264.6" y="48.0" width="1.8" height="1.8" fill="#e0101a"/><rect x="276.6" y="47.7" width="1.8" height="1.8" fill="#e0101a"/><rect x="278.9" y="49.3" width="1.8" height="1.8" fill="#e0101a"/><rect x="284.9" y="45.2" width="1.8" height="1.8" fill="#e0101a"/><rect x="224.5" y="52.9" width="1.8" height="1.8" fill="#e0101a"/><rect x="230.0" y="51.6" width="1.8" height="1.8" fill="#e0101a"/><rect x="231.4" y="53.2" width="1.8" height="1.8" fill="#e0101a"/><rect x="235.8" y="52.9" width="1.8" height="1.8" fill="#e0101a"/><rect x="255.9" y="52.9" width="1.8" height="1.8" fill="#e0101a"/><rect x="256.6" y="53.2" width="1.8" height="1.8" fill="#e0101a"/><rect x="270.4" y="52.5" width="1.8" height="1.8" fill="#e0101a"/><rect x="273.8" y="53.2" width="1.8" height="1.8" fill="#e0101a"/><rect x="274.8" y="52.5" width="1.8" height="1.8" fill="#e0101a"/><rect x="275.9" y="51.8" width="1.8" height="1.8" fill="#e0101a"/><rect x="283.1" y="52.1" width="1.8" height="1.8" fill="#e0101a"/><rect x="231.7" y="56.0" width="1.8" height="1.8" fill="#e0101a"/><rect x="219.0" y="58.7" width="1.8" height="1.8" fill="#e0101a"/><rect x="224.1" y="60.8" width="1.8" height="1.8" fill="#e0101a"/><rect x="225.9" y="58.7" width="1.8" height="1.8" fill="#e0101a"/><rect x="228.6" y="57.6" width="1.8" height="1.8" fill="#e0101a"/><rect x="232.4" y="59.4" width="1.8" height="1.8" fill="#e0101a"/><rect x="233.1" y="62.6" width="1.8" height="1.8" fill="#e0101a"/><rect x="242.7" y="58.5" width="1.8" height="1.8" fill="#e0101a"/><rect x="243.4" y="60.1" width="1.8" height="1.8" fill="#e0101a"/><rect x="247.2" y="63.6" width="1.8" height="1.8" fill="#e0101a"/><rect x="260.0" y="54.9" width="1.8" height="1.8" fill="#e0101a"/><rect x="263.7" y="54.6" width="1.8" height="1.8" fill="#e0101a"/><rect x="260.7" y="58.5" width="1.8" height="1.8" fill="#e0101a"/><rect x="264.8" y="58.5" width="1.8" height="1.8" fill="#e0101a"/><rect x="266.2" y="59.4" width="1.8" height="1.8" fill="#e0101a"/><rect x="269.3" y="58.0" width="1.8" height="1.8" fill="#e0101a"/><rect x="270.4" y="58.7" width="1.8" height="1.8" fill="#e0101a"/><rect x="271.1" y="54.9" width="1.8" height="1.8" fill="#e0101a"/><rect x="274.5" y="60.8" width="1.8" height="1.8" fill="#e0101a"/><rect x="276.2" y="62.6" width="1.8" height="1.8" fill="#e0101a"/><rect x="277.0" y="56.0" width="1.8" height="1.8" fill="#e0101a"/><rect x="278.0" y="56.2" width="1.8" height="1.8" fill="#e0101a"/><rect x="278.9" y="60.8" width="1.8" height="1.8" fill="#e0101a"/><rect x="282.1" y="60.1" width="1.8" height="1.8" fill="#e0101a"/><rect x="285.6" y="60.8" width="1.8" height="1.8" fill="#e0101a"/><rect x="286.7" y="63.2" width="1.8" height="1.8" fill="#e0101a"/><rect x="287.2" y="64.3" width="1.8" height="1.8" fill="#e0101a"/><rect x="288.1" y="63.6" width="1.8" height="1.8" fill="#e0101a"/><rect x="289.0" y="62.6" width="1.8" height="1.8" fill="#e0101a"/><rect x="289.7" y="64.0" width="1.8" height="1.8" fill="#e0101a"/><rect x="290.4" y="62.9" width="1.8" height="1.8" fill="#e0101a"/><rect x="285.8" y="58.7" width="1.8" height="1.8" fill="#e0101a"/><rect x="267.6" y="64.3" width="1.8" height="1.8" fill="#e0101a"/><rect x="261.4" y="64.5" width="1.8" height="1.8" fill="#e0101a"/><rect x="221.3" y="67.7" width="1.8" height="1.8" fill="#e0101a"/><rect x="222.7" y="67.3" width="1.8" height="1.8" fill="#e0101a"/><rect x="225.0" y="68.1" width="1.8" height="1.8" fill="#e0101a"/><rect x="227.8" y="68.4" width="1.8" height="1.8" fill="#e0101a"/><rect x="229.6" y="65.4" width="1.8" height="1.8" fill="#e0101a"/><rect x="238.6" y="66.8" width="1.8" height="1.8" fill="#e0101a"/><rect x="239.7" y="67.3" width="1.8" height="1.8" fill="#e0101a"/><rect x="240.7" y="67.7" width="1.8" height="1.8" fill="#e0101a"/><rect x="241.6" y="68.1" width="1.8" height="1.8" fill="#e0101a"/><rect x="247.2" y="68.7" width="1.8" height="1.8" fill="#e0101a"/><rect x="254.1" y="65.4" width="1.8" height="1.8" fill="#e0101a"/><rect x="254.9" y="68.7" width="1.8" height="1.8" fill="#e0101a"/><rect x="262.4" y="67.7" width="1.8" height="1.8" fill="#e0101a"/><rect x="266.9" y="65.0" width="1.8" height="1.8" fill="#e0101a"/><rect x="272.0" y="68.1" width="1.8" height="1.8" fill="#e0101a"/><rect x="273.8" y="65.6" width="1.8" height="1.8" fill="#e0101a"/><rect x="274.8" y="67.3" width="1.8" height="1.8" fill="#e0101a"/><rect x="275.9" y="67.3" width="1.8" height="1.8" fill="#e0101a"/><rect x="279.8" y="68.7" width="1.8" height="1.8" fill="#e0101a"/><rect x="282.1" y="68.4" width="1.8" height="1.8" fill="#e0101a"/><rect x="216.8" y="71.9" width="1.8" height="1.8" fill="#e0101a"/><rect x="217.2" y="70.9" width="1.8" height="1.8" fill="#e0101a"/><rect x="220.6" y="73.2" width="1.8" height="1.8" fill="#e0101a"/><rect x="219.9" y="75.6" width="1.8" height="1.8" fill="#e0101a"/><rect x="223.4" y="73.2" width="1.8" height="1.8" fill="#e0101a"/><rect x="224.1" y="71.9" width="1.8" height="1.8" fill="#e0101a"/><rect x="248.5" y="70.5" width="1.8" height="1.8" fill="#e0101a"/><rect x="250.3" y="72.6" width="1.8" height="1.8" fill="#e0101a"/><rect x="251.7" y="75.0" width="1.8" height="1.8" fill="#e0101a"/><rect x="254.1" y="73.7" width="1.8" height="1.8" fill="#e0101a"/><rect x="236.9" y="76.7" width="1.8" height="1.8" fill="#e0101a"/><rect x="246.6" y="77.8" width="1.8" height="1.8" fill="#e0101a"/><rect x="271.5" y="71.2" width="1.8" height="1.8" fill="#e0101a"/><rect x="280.0" y="72.3" width="1.8" height="1.8" fill="#e0101a"/><rect x="281.2" y="72.8" width="1.8" height="1.8" fill="#e0101a"/><rect x="282.8" y="73.2" width="1.8" height="1.8" fill="#e0101a"/><rect x="285.8" y="73.9" width="1.8" height="1.8" fill="#e0101a"/><rect x="287.0" y="74.6" width="1.8" height="1.8" fill="#e0101a"/><rect x="288.3" y="75.0" width="1.8" height="1.8" fill="#e0101a"/><rect x="289.7" y="74.2" width="1.8" height="1.8" fill="#e0101a"/><rect x="271.5" y="76.7" width="1.8" height="1.8" fill="#e0101a"/><rect x="222.7" y="82.6" width="1.8" height="1.8" fill="#e0101a"/><rect x="223.7" y="81.2" width="1.8" height="1.8" fill="#e0101a"/><rect x="227.3" y="80.5" width="1.8" height="1.8" fill="#e0101a"/><rect x="244.1" y="84.4" width="1.8" height="1.8" fill="#e0101a"/><rect x="256.8" y="82.1" width="1.8" height="1.8" fill="#e0101a"/><rect x="266.5" y="83.2" width="1.8" height="1.8" fill="#e0101a"/><rect x="271.5" y="85.3" width="1.8" height="1.8" fill="#e0101a"/><rect x="282.1" y="81.2" width="1.8" height="1.8" fill="#e0101a"/><rect x="283.1" y="80.5" width="1.8" height="1.8" fill="#e0101a"/><rect x="219.2" y="87.7" width="1.8" height="1.8" fill="#e0101a"/><rect x="220.4" y="89.9" width="1.8" height="1.8" fill="#e0101a"/><rect x="261.4" y="87.1" width="1.8" height="1.8" fill="#e0101a"/><rect x="263.2" y="89.0" width="1.8" height="1.8" fill="#e0101a"/><rect x="264.2" y="89.9" width="1.8" height="1.8" fill="#e0101a"/><rect x="290.4" y="90.4" width="1.8" height="1.8" fill="#e0101a"/><rect x="248.0" y="93.6" width="1.8" height="1.8" fill="#e0101a"/><rect x="249.9" y="91.3" width="1.8" height="1.8" fill="#e0101a"/><rect x="251.3" y="90.4" width="1.8" height="1.8" fill="#e0101a"/><rect x="252.7" y="89.5" width="1.8" height="1.8" fill="#e0101a"/><rect x="252.1" y="93.6" width="1.8" height="1.8" fill="#e0101a"/><rect x="236.1" y="95.0" width="1.8" height="1.8" fill="#e0101a"/><rect x="225.5" y="96.0" width="1.8" height="1.8" fill="#e0101a"/><rect x="226.4" y="96.8" width="1.8" height="1.8" fill="#e0101a"/><rect x="231.4" y="96.8" width="1.8" height="1.8" fill="#e0101a"/><rect x="234.2" y="98.2" width="1.8" height="1.8" fill="#e0101a"/><rect x="257.2" y="96.8" width="1.8" height="1.8" fill="#e0101a"/><rect x="266.9" y="98.7" width="1.8" height="1.8" fill="#e0101a"/><rect x="269.7" y="100.5" width="1.8" height="1.8" fill="#e0101a"/><rect x="278.0" y="97.1" width="1.8" height="1.8" fill="#e0101a"/><rect x="283.5" y="96.0" width="1.8" height="1.8" fill="#e0101a"/><rect x="289.7" y="95.4" width="1.8" height="1.8" fill="#e0101a"/><rect x="215.8" y="99.8" width="1.8" height="1.8" fill="#e0101a"/><rect x="217.9" y="100.9" width="1.8" height="1.8" fill="#e0101a"/><rect x="219.5" y="101.2" width="1.8" height="1.8" fill="#e0101a"/><rect x="221.3" y="102.9" width="1.8" height="1.8" fill="#e0101a"/><rect x="227.8" y="103.3" width="1.8" height="1.8" fill="#e0101a"/><rect x="228.9" y="104.2" width="1.8" height="1.8" fill="#e0101a"/><rect x="230.3" y="104.2" width="1.8" height="1.8" fill="#e0101a"/><rect x="233.1" y="100.9" width="1.8" height="1.8" fill="#e0101a"/><rect x="234.4" y="102.9" width="1.8" height="1.8" fill="#e0101a"/><rect x="235.6" y="103.7" width="1.8" height="1.8" fill="#e0101a"/><rect x="236.5" y="104.0" width="1.8" height="1.8" fill="#e0101a"/><rect x="237.9" y="104.0" width="1.8" height="1.8" fill="#e0101a"/><rect x="236.9" y="99.8" width="1.8" height="1.8" fill="#e0101a"/><rect x="249.4" y="105.1" width="1.8" height="1.8" fill="#e0101a"/><rect x="248.3" y="107.4" width="1.8" height="1.8" fill="#e0101a"/><rect x="278.0" y="102.3" width="1.8" height="1.8" fill="#e0101a"/><rect x="284.2" y="102.3" width="1.8" height="1.8" fill="#e0101a"/><rect x="216.2" y="113.6" width="1.8" height="1.8" fill="#e0101a"/><rect x="291.8" y="41.0" width="1.8" height="1.8" fill="#e0101a"/><rect x="304.9" y="40.5" width="1.8" height="1.8" fill="#e0101a"/><rect x="310.4" y="40.5" width="1.8" height="1.8" fill="#e0101a"/><rect x="312.1" y="40.8" width="1.8" height="1.8" fill="#e0101a"/><rect x="337.0" y="39.1" width="1.8" height="1.8" fill="#e0101a"/><rect x="344.3" y="40.1" width="1.8" height="1.8" fill="#e0101a"/><rect x="345.3" y="40.5" width="1.8" height="1.8" fill="#e0101a"/><rect x="346.1" y="40.5" width="1.8" height="1.8" fill="#e0101a"/><rect x="347.1" y="40.8" width="1.8" height="1.8" fill="#e0101a"/><rect x="349.1" y="41.0" width="1.8" height="1.8" fill="#e0101a"/><rect x="351.6" y="38.7" width="1.8" height="1.8" fill="#e0101a"/><rect x="353.0" y="39.7" width="1.8" height="1.8" fill="#e0101a"/><rect x="354.0" y="40.5" width="1.8" height="1.8" fill="#e0101a"/><rect x="354.9" y="41.0" width="1.8" height="1.8" fill="#e0101a"/><rect x="356.0" y="41.9" width="1.8" height="1.8" fill="#e0101a"/><rect x="296.9" y="47.0" width="1.8" height="1.8" fill="#e0101a"/><rect x="296.4" y="48.4" width="1.8" height="1.8" fill="#e0101a"/><rect x="295.9" y="50.4" width="1.8" height="1.8" fill="#e0101a"/><rect x="300.8" y="50.4" width="1.8" height="1.8" fill="#e0101a"/><rect x="304.9" y="49.8" width="1.8" height="1.8" fill="#e0101a"/><rect x="307.0" y="45.2" width="1.8" height="1.8" fill="#e0101a"/><rect x="350.8" y="44.9" width="1.8" height="1.8" fill="#e0101a"/><rect x="352.2" y="45.6" width="1.8" height="1.8" fill="#e0101a"/><rect x="356.7" y="48.0" width="1.8" height="1.8" fill="#e0101a"/><rect x="347.5" y="48.8" width="1.8" height="1.8" fill="#e0101a"/><rect x="314.6" y="52.5" width="1.8" height="1.8" fill="#e0101a"/><rect x="317.1" y="51.8" width="1.8" height="1.8" fill="#e0101a"/><rect x="313.9" y="55.7" width="1.8" height="1.8" fill="#e0101a"/><rect x="295.2" y="58.7" width="1.8" height="1.8" fill="#e0101a"/><rect x="295.0" y="60.8" width="1.8" height="1.8" fill="#e0101a"/><rect x="303.8" y="61.8" width="1.8" height="1.8" fill="#e0101a"/><rect x="306.6" y="65.9" width="1.8" height="1.8" fill="#e0101a"/><rect x="310.4" y="63.2" width="1.8" height="1.8" fill="#e0101a"/><rect x="311.8" y="64.5" width="1.8" height="1.8" fill="#e0101a"/><rect x="313.2" y="65.4" width="1.8" height="1.8" fill="#e0101a"/><rect x="316.7" y="64.0" width="1.8" height="1.8" fill="#e0101a"/><rect x="322.6" y="64.0" width="1.8" height="1.8" fill="#e0101a"/><rect x="325.0" y="63.6" width="1.8" height="1.8" fill="#e0101a"/><rect x="327.3" y="66.3" width="1.8" height="1.8" fill="#e0101a"/><rect x="344.7" y="65.4" width="1.8" height="1.8" fill="#e0101a"/><rect x="350.2" y="54.9" width="1.8" height="1.8" fill="#e0101a"/><rect x="355.8" y="57.6" width="1.8" height="1.8" fill="#e0101a"/><rect x="358.1" y="54.9" width="1.8" height="1.8" fill="#e0101a"/><rect x="361.6" y="53.5" width="1.8" height="1.8" fill="#e0101a"/><rect x="364.3" y="56.7" width="1.8" height="1.8" fill="#e0101a"/><rect x="365.7" y="59.4" width="1.8" height="1.8" fill="#e0101a"/><rect x="349.8" y="62.6" width="1.8" height="1.8" fill="#e0101a"/><rect x="352.6" y="61.2" width="1.8" height="1.8" fill="#e0101a"/><rect x="354.0" y="62.2" width="1.8" height="1.8" fill="#e0101a"/><rect x="354.9" y="65.6" width="1.8" height="1.8" fill="#e0101a"/><rect x="357.2" y="66.8" width="1.8" height="1.8" fill="#e0101a"/><rect x="357.7" y="64.0" width="1.8" height="1.8" fill="#e0101a"/><rect x="362.7" y="62.2" width="1.8" height="1.8" fill="#e0101a"/><rect x="293.6" y="71.2" width="1.8" height="1.8" fill="#e0101a"/><rect x="298.7" y="72.6" width="1.8" height="1.8" fill="#e0101a"/><rect x="299.7" y="70.5" width="1.8" height="1.8" fill="#e0101a"/><rect x="304.9" y="72.6" width="1.8" height="1.8" fill="#e0101a"/><rect x="308.8" y="69.8" width="1.8" height="1.8" fill="#e0101a"/><rect x="310.4" y="71.2" width="1.8" height="1.8" fill="#e0101a"/><rect x="311.8" y="68.7" width="1.8" height="1.8" fill="#e0101a"/><rect x="313.5" y="70.5" width="1.8" height="1.8" fill="#e0101a"/><rect x="314.9" y="71.4" width="1.8" height="1.8" fill="#e0101a"/><rect x="316.0" y="71.9" width="1.8" height="1.8" fill="#e0101a"/><rect x="317.4" y="72.3" width="1.8" height="1.8" fill="#e0101a"/><rect x="318.7" y="72.3" width="1.8" height="1.8" fill="#e0101a"/><rect x="320.1" y="72.3" width="1.8" height="1.8" fill="#e0101a"/><rect x="321.5" y="72.6" width="1.8" height="1.8" fill="#e0101a"/><rect x="322.9" y="72.3" width="1.8" height="1.8" fill="#e0101a"/><rect x="324.3" y="72.6" width="1.8" height="1.8" fill="#e0101a"/><rect x="325.6" y="72.6" width="1.8" height="1.8" fill="#e0101a"/><rect x="327.3" y="72.3" width="1.8" height="1.8" fill="#e0101a"/><rect x="329.8" y="73.7" width="1.8" height="1.8" fill="#e0101a"/><rect x="343.6" y="70.9" width="1.8" height="1.8" fill="#e0101a"/><rect x="349.8" y="68.7" width="1.8" height="1.8" fill="#e0101a"/><rect x="353.3" y="72.3" width="1.8" height="1.8" fill="#e0101a"/><rect x="358.8" y="68.1" width="1.8" height="1.8" fill="#e0101a"/><rect x="360.2" y="70.1" width="1.8" height="1.8" fill="#e0101a"/><rect x="361.6" y="68.7" width="1.8" height="1.8" fill="#e0101a"/><rect x="363.0" y="70.9" width="1.8" height="1.8" fill="#e0101a"/><rect x="364.3" y="71.4" width="1.8" height="1.8" fill="#e0101a"/><rect x="365.7" y="70.5" width="1.8" height="1.8" fill="#e0101a"/><rect x="358.5" y="72.3" width="1.8" height="1.8" fill="#e0101a"/><rect x="293.2" y="76.0" width="1.8" height="1.8" fill="#e0101a"/><rect x="295.2" y="76.4" width="1.8" height="1.8" fill="#e0101a"/><rect x="298.0" y="76.7" width="1.8" height="1.8" fill="#e0101a"/><rect x="300.1" y="76.0" width="1.8" height="1.8" fill="#e0101a"/><rect x="301.9" y="76.4" width="1.8" height="1.8" fill="#e0101a"/><rect x="302.8" y="75.6" width="1.8" height="1.8" fill="#e0101a"/><rect x="303.5" y="76.7" width="1.8" height="1.8" fill="#e0101a"/><rect x="307.7" y="75.3" width="1.8" height="1.8" fill="#e0101a"/><rect x="348.4" y="76.0" width="1.8" height="1.8" fill="#e0101a"/><rect x="365.7" y="76.7" width="1.8" height="1.8" fill="#e0101a"/><rect x="297.3" y="79.8" width="1.8" height="1.8" fill="#e0101a"/><rect x="298.7" y="82.1" width="1.8" height="1.8" fill="#e0101a"/><rect x="301.9" y="84.4" width="1.8" height="1.8" fill="#e0101a"/><rect x="300.1" y="86.3" width="1.8" height="1.8" fill="#e0101a"/><rect x="294.1" y="86.7" width="1.8" height="1.8" fill="#e0101a"/><rect x="311.6" y="83.2" width="1.8" height="1.8" fill="#e0101a"/><rect x="316.7" y="80.2" width="1.8" height="1.8" fill="#e0101a"/><rect x="321.8" y="79.4" width="1.8" height="1.8" fill="#e0101a"/><rect x="360.2" y="81.6" width="1.8" height="1.8" fill="#e0101a"/><rect x="332.6" y="84.9" width="1.8" height="1.8" fill="#e0101a"/><rect x="333.7" y="86.0" width="1.8" height="1.8" fill="#e0101a"/><rect x="335.0" y="86.7" width="1.8" height="1.8" fill="#e0101a"/><rect x="336.0" y="85.3" width="1.8" height="1.8" fill="#e0101a"/><rect x="337.4" y="86.0" width="1.8" height="1.8" fill="#e0101a"/><rect x="338.4" y="84.9" width="1.8" height="1.8" fill="#e0101a"/><rect x="339.5" y="86.7" width="1.8" height="1.8" fill="#e0101a"/><rect x="340.6" y="85.7" width="1.8" height="1.8" fill="#e0101a"/><rect x="342.0" y="86.3" width="1.8" height="1.8" fill="#e0101a"/><rect x="342.9" y="87.1" width="1.8" height="1.8" fill="#e0101a"/><rect x="343.6" y="85.3" width="1.8" height="1.8" fill="#e0101a"/><rect x="308.8" y="90.4" width="1.8" height="1.8" fill="#e0101a"/><rect x="305.6" y="92.6" width="1.8" height="1.8" fill="#e0101a"/><rect x="316.0" y="92.9" width="1.8" height="1.8" fill="#e0101a"/><rect x="329.8" y="92.2" width="1.8" height="1.8" fill="#e0101a"/><rect x="331.2" y="92.9" width="1.8" height="1.8" fill="#e0101a"/><rect x="332.3" y="93.6" width="1.8" height="1.8" fill="#e0101a"/><rect x="335.0" y="92.9" width="1.8" height="1.8" fill="#e0101a"/><rect x="336.0" y="92.2" width="1.8" height="1.8" fill="#e0101a"/><rect x="337.4" y="91.8" width="1.8" height="1.8" fill="#e0101a"/><rect x="338.4" y="92.6" width="1.8" height="1.8" fill="#e0101a"/><rect x="339.5" y="92.9" width="1.8" height="1.8" fill="#e0101a"/><rect x="340.6" y="92.6" width="1.8" height="1.8" fill="#e0101a"/><rect x="341.5" y="92.9" width="1.8" height="1.8" fill="#e0101a"/><rect x="342.9" y="93.2" width="1.8" height="1.8" fill="#e0101a"/><rect x="351.6" y="93.6" width="1.8" height="1.8" fill="#e0101a"/><rect x="295.0" y="95.4" width="1.8" height="1.8" fill="#e0101a"/><rect x="295.9" y="96.8" width="1.8" height="1.8" fill="#e0101a"/><rect x="296.9" y="97.8" width="1.8" height="1.8" fill="#e0101a"/><rect x="300.8" y="99.1" width="1.8" height="1.8" fill="#e0101a"/><rect x="304.2" y="98.2" width="1.8" height="1.8" fill="#e0101a"/><rect x="307.7" y="99.1" width="1.8" height="1.8" fill="#e0101a"/><rect x="310.4" y="99.6" width="1.8" height="1.8" fill="#e0101a"/><rect x="311.8" y="100.5" width="1.8" height="1.8" fill="#e0101a"/><rect x="312.9" y="99.8" width="1.8" height="1.8" fill="#e0101a"/><rect x="313.9" y="101.9" width="1.8" height="1.8" fill="#e0101a"/><rect x="307.4" y="102.3" width="1.8" height="1.8" fill="#e0101a"/><rect x="308.4" y="102.9" width="1.8" height="1.8" fill="#e0101a"/><rect x="309.8" y="101.2" width="1.8" height="1.8" fill="#e0101a"/><rect x="291.8" y="103.7" width="1.8" height="1.8" fill="#e0101a"/><rect x="350.8" y="98.7" width="1.8" height="1.8" fill="#e0101a"/><rect x="358.5" y="100.5" width="1.8" height="1.8" fill="#e0101a"/><rect x="359.5" y="102.9" width="1.8" height="1.8" fill="#e0101a"/><rect x="365.7" y="96.4" width="1.8" height="1.8" fill="#e0101a"/><rect x="366.4" y="95.4" width="1.8" height="1.8" fill="#e0101a"/><rect x="348.0" y="115.0" width="1.8" height="1.8" fill="#e0101a"/><rect x="373.3" y="40.5" width="1.8" height="1.8" fill="#e0101a"/><rect x="376.8" y="41.0" width="1.8" height="1.8" fill="#e0101a"/><rect x="377.9" y="40.8" width="1.8" height="1.8" fill="#e0101a"/><rect x="378.8" y="40.5" width="1.8" height="1.8" fill="#e0101a"/><rect x="377.5" y="43.8" width="1.8" height="1.8" fill="#e0101a"/><rect x="388.5" y="43.3" width="1.8" height="1.8" fill="#e0101a"/><rect x="398.9" y="40.5" width="1.8" height="1.8" fill="#e0101a"/><rect x="412.7" y="39.4" width="1.8" height="1.8" fill="#e0101a"/><rect x="416.8" y="40.1" width="1.8" height="1.8" fill="#e0101a"/><rect x="415.7" y="42.8" width="1.8" height="1.8" fill="#e0101a"/><rect x="427.9" y="41.0" width="1.8" height="1.8" fill="#e0101a"/><rect x="429.3" y="40.5" width="1.8" height="1.8" fill="#e0101a"/><rect x="430.4" y="40.1" width="1.8" height="1.8" fill="#e0101a"/><rect x="431.4" y="40.8" width="1.8" height="1.8" fill="#e0101a"/><rect x="434.8" y="39.1" width="1.8" height="1.8" fill="#e0101a"/><rect x="368.2" y="48.8" width="1.8" height="1.8" fill="#e0101a"/><rect x="369.2" y="49.3" width="1.8" height="1.8" fill="#e0101a"/><rect x="376.1" y="50.2" width="1.8" height="1.8" fill="#e0101a"/><rect x="379.3" y="52.9" width="1.8" height="1.8" fill="#e0101a"/><rect x="398.9" y="52.9" width="1.8" height="1.8" fill="#e0101a"/><rect x="397.8" y="55.7" width="1.8" height="1.8" fill="#e0101a"/><rect x="372.9" y="56.7" width="1.8" height="1.8" fill="#e0101a"/><rect x="371.9" y="59.4" width="1.8" height="1.8" fill="#e0101a"/><rect x="376.5" y="60.1" width="1.8" height="1.8" fill="#e0101a"/><rect x="404.7" y="57.4" width="1.8" height="1.8" fill="#e0101a"/><rect x="414.4" y="56.2" width="1.8" height="1.8" fill="#e0101a"/><rect x="427.2" y="52.5" width="1.8" height="1.8" fill="#e0101a"/><rect x="433.4" y="46.3" width="1.8" height="1.8" fill="#e0101a"/><rect x="434.5" y="49.1" width="1.8" height="1.8" fill="#e0101a"/><rect x="436.9" y="48.0" width="1.8" height="1.8" fill="#e0101a"/><rect x="439.0" y="51.6" width="1.8" height="1.8" fill="#e0101a"/><rect x="442.4" y="51.6" width="1.8" height="1.8" fill="#e0101a"/><rect x="431.4" y="56.7" width="1.8" height="1.8" fill="#e0101a"/><rect x="438.3" y="56.7" width="1.8" height="1.8" fill="#e0101a"/><rect x="370.1" y="62.6" width="1.8" height="1.8" fill="#e0101a"/><rect x="387.8" y="62.6" width="1.8" height="1.8" fill="#e0101a"/><rect x="389.9" y="60.8" width="1.8" height="1.8" fill="#e0101a"/><rect x="387.6" y="62.2" width="1.8" height="1.8" fill="#e0101a"/><rect x="401.0" y="61.2" width="1.8" height="1.8" fill="#e0101a"/><rect x="411.0" y="62.6" width="1.8" height="1.8" fill="#e0101a"/><rect x="441.7" y="62.6" width="1.8" height="1.8" fill="#e0101a"/><rect x="367.8" y="72.1" width="1.8" height="1.8" fill="#e0101a"/><rect x="369.2" y="71.7" width="1.8" height="1.8" fill="#e0101a"/><rect x="370.6" y="73.0" width="1.8" height="1.8" fill="#e0101a"/><rect x="372.6" y="72.8" width="1.8" height="1.8" fill="#e0101a"/><rect x="378.4" y="75.3" width="1.8" height="1.8" fill="#e0101a"/><rect x="379.5" y="73.5" width="1.8" height="1.8" fill="#e0101a"/><rect x="387.8" y="70.0" width="1.8" height="1.8" fill="#e0101a"/><rect x="389.9" y="68.9" width="1.8" height="1.8" fill="#e0101a"/><rect x="391.3" y="69.7" width="1.8" height="1.8" fill="#e0101a"/><rect x="393.4" y="68.9" width="1.8" height="1.8" fill="#e0101a"/><rect x="395.4" y="70.0" width="1.8" height="1.8" fill="#e0101a"/><rect x="396.8" y="69.7" width="1.8" height="1.8" fill="#e0101a"/><rect x="398.2" y="68.6" width="1.8" height="1.8" fill="#e0101a"/><rect x="398.9" y="69.3" width="1.8" height="1.8" fill="#e0101a"/><rect x="403.3" y="69.3" width="1.8" height="1.8" fill="#e0101a"/><rect x="404.7" y="68.4" width="1.8" height="1.8" fill="#e0101a"/><rect x="406.1" y="68.6" width="1.8" height="1.8" fill="#e0101a"/><rect x="409.7" y="71.1" width="1.8" height="1.8" fill="#e0101a"/><rect x="411.3" y="68.6" width="1.8" height="1.8" fill="#e0101a"/><rect x="414.1" y="70.7" width="1.8" height="1.8" fill="#e0101a"/><rect x="418.9" y="65.2" width="1.8" height="1.8" fill="#e0101a"/><rect x="381.6" y="65.6" width="1.8" height="1.8" fill="#e0101a"/><rect x="377.5" y="67.2" width="1.8" height="1.8" fill="#e0101a"/><rect x="378.8" y="66.6" width="1.8" height="1.8" fill="#e0101a"/><rect x="387.8" y="64.8" width="1.8" height="1.8" fill="#e0101a"/><rect x="396.1" y="63.8" width="1.8" height="1.8" fill="#e0101a"/><rect x="403.7" y="64.2" width="1.8" height="1.8" fill="#e0101a"/><rect x="405.8" y="64.8" width="1.8" height="1.8" fill="#e0101a"/><rect x="410.6" y="63.4" width="1.8" height="1.8" fill="#e0101a"/><rect x="430.0" y="69.3" width="1.8" height="1.8" fill="#e0101a"/><rect x="433.4" y="68.9" width="1.8" height="1.8" fill="#e0101a"/><rect x="437.6" y="68.6" width="1.8" height="1.8" fill="#e0101a"/><rect x="440.3" y="68.4" width="1.8" height="1.8" fill="#e0101a"/><rect x="442.4" y="67.2" width="1.8" height="1.8" fill="#e0101a"/><rect x="370.6" y="80.8" width="1.8" height="1.8" fill="#e0101a"/><rect x="380.2" y="81.8" width="1.8" height="1.8" fill="#e0101a"/><rect x="392.0" y="83.1" width="1.8" height="1.8" fill="#e0101a"/><rect x="399.6" y="85.2" width="1.8" height="1.8" fill="#e0101a"/><rect x="401.0" y="83.8" width="1.8" height="1.8" fill="#e0101a"/><rect x="404.4" y="79.7" width="1.8" height="1.8" fill="#e0101a"/><rect x="409.9" y="82.2" width="1.8" height="1.8" fill="#e0101a"/><rect x="417.5" y="83.6" width="1.8" height="1.8" fill="#e0101a"/><rect x="418.5" y="84.5" width="1.8" height="1.8" fill="#e0101a"/><rect x="419.6" y="82.4" width="1.8" height="1.8" fill="#e0101a"/><rect x="420.3" y="83.8" width="1.8" height="1.8" fill="#e0101a"/><rect x="421.3" y="85.2" width="1.8" height="1.8" fill="#e0101a"/><rect x="422.4" y="83.1" width="1.8" height="1.8" fill="#e0101a"/><rect x="423.1" y="85.9" width="1.8" height="1.8" fill="#e0101a"/><rect x="424.0" y="84.5" width="1.8" height="1.8" fill="#e0101a"/><rect x="425.1" y="85.2" width="1.8" height="1.8" fill="#e0101a"/><rect x="426.5" y="85.9" width="1.8" height="1.8" fill="#e0101a"/><rect x="427.9" y="85.2" width="1.8" height="1.8" fill="#e0101a"/><rect x="432.0" y="84.5" width="1.8" height="1.8" fill="#e0101a"/><rect x="434.1" y="85.2" width="1.8" height="1.8" fill="#e0101a"/><rect x="436.2" y="84.9" width="1.8" height="1.8" fill="#e0101a"/><rect x="439.0" y="85.9" width="1.8" height="1.8" fill="#e0101a"/><rect x="422.4" y="81.1" width="1.8" height="1.8" fill="#e0101a"/><rect x="421.3" y="80.8" width="1.8" height="1.8" fill="#e0101a"/><rect x="380.2" y="73.9" width="1.8" height="1.8" fill="#1e8a1e"/><rect x="380.6" y="77.6" width="1.8" height="1.8" fill="#1e8a1e"/><rect x="391.3" y="73.5" width="1.8" height="1.8" fill="#1e8a1e"/><rect x="392.7" y="74.2" width="1.8" height="1.8" fill="#1e8a1e"/><rect x="394.0" y="75.3" width="1.8" height="1.8" fill="#1e8a1e"/><rect x="395.4" y="75.5" width="1.8" height="1.8" fill="#1e8a1e"/><rect x="396.8" y="74.8" width="1.8" height="1.8" fill="#1e8a1e"/><rect x="400.3" y="76.2" width="1.8" height="1.8" fill="#1e8a1e"/><rect x="402.3" y="74.8" width="1.8" height="1.8" fill="#1e8a1e"/><rect x="403.7" y="73.9" width="1.8" height="1.8" fill="#1e8a1e"/><rect x="408.6" y="75.5" width="1.8" height="1.8" fill="#1e8a1e"/><rect x="416.2" y="79.0" width="1.8" height="1.8" fill="#1e8a1e"/><rect x="422.4" y="76.9" width="1.8" height="1.8" fill="#1e8a1e"/><rect x="426.8" y="78.6" width="1.8" height="1.8" fill="#1e8a1e"/><rect x="436.2" y="75.5" width="1.8" height="1.8" fill="#1e8a1e"/><rect x="436.9" y="73.9" width="1.8" height="1.8" fill="#1e8a1e"/><rect x="439.0" y="75.3" width="1.8" height="1.8" fill="#1e8a1e"/><rect x="440.1" y="76.2" width="1.8" height="1.8" fill="#1e8a1e"/><rect x="441.0" y="74.4" width="1.8" height="1.8" fill="#1e8a1e"/><rect x="442.4" y="76.9" width="1.8" height="1.8" fill="#1e8a1e"/><rect x="392.0" y="94.6" width="1.8" height="1.8" fill="#e0101a"/><rect x="399.6" y="95.0" width="1.8" height="1.8" fill="#e0101a"/><rect x="412.4" y="96.0" width="1.8" height="1.8" fill="#e0101a"/><rect x="372.6" y="96.0" width="1.8" height="1.8" fill="#e0101a"/><rect x="373.7" y="97.3" width="1.8" height="1.8" fill="#e0101a"/><rect x="368.2" y="100.9" width="1.8" height="1.8" fill="#e0101a"/><rect x="415.5" y="99.8" width="1.8" height="1.8" fill="#e0101a"/><rect x="417.5" y="100.9" width="1.8" height="1.8" fill="#e0101a"/><rect x="425.8" y="94.0" width="1.8" height="1.8" fill="#e0101a"/><rect x="428.6" y="93.6" width="1.8" height="1.8" fill="#e0101a"/><rect x="432.7" y="94.0" width="1.8" height="1.8" fill="#e0101a"/><rect x="434.8" y="92.2" width="1.8" height="1.8" fill="#e0101a"/><rect x="432.0" y="98.2" width="1.8" height="1.8" fill="#e0101a"/><rect x="432.7" y="99.6" width="1.8" height="1.8" fill="#e0101a"/><rect x="373.3" y="115.0" width="1.8" height="1.8" fill="#e0101a"/><rect x="416.6" y="116.4" width="1.8" height="1.8" fill="#e0101a"/><rect x="411.9" y="87.1" width="1.8" height="1.8" fill="#e0101a"/><rect x="414.7" y="87.5" width="1.8" height="1.8" fill="#e0101a"/><polygon points="409.6,70.1 412.4,72.9 409.6,75.7 406.8,72.9" fill="#1a861a"/></svg>
<div class="a" style="left:450px;top:54px;width:78px;height:52px;border:1px solid #ababab;background:#e4e4e4"></div>
<svg class="a" style="left:0;top:0" width="550" height="348"><circle cx="457.2" cy="59.9" r="3.3" fill="#138a13"/><polygon points="453.8,67 460.6,67 457.2,72.6" fill="#ee1111"/><line x1="453.5" y1="79.6" x2="461" y2="79.6" stroke="#3d9f3d" stroke-width="1.3"/><line x1="453" y1="89.5" x2="461" y2="89.5" stroke="#e82020" stroke-width="1" stroke-dasharray="1,1"/><polygon points="457.2,96.6 460.6,100 457.2,103.4 453.8,100" fill="#138a13"/></svg>
<div class="t" style="left:462.0px;top:57.4px;font-size:6.4px;transform:scaleX(0.92)">Feasible solution</div>
<div class="t" style="left:462.0px;top:67.4px;font-size:6.4px;transform:scaleX(0.92)">Infeasible solution</div>
<div class="t" style="left:462.0px;top:77.4px;font-size:6.4px;transform:scaleX(0.92)">Best feasible solutions</div>
<div class="t" style="left:462.0px;top:87.4px;font-size:6.4px;transform:scaleX(0.92)">Best infeasible solutions</div>
<div class="t" style="left:462.0px;top:97.4px;font-size:6.4px;transform:scaleX(0.92)">Last best solution</div>
<div class="a" style="left:4px;top:155px;width:540px;height:2px;background:#cacaca"></div>
<div class="a" style="left:4px;top:158px;width:540px;height:1px;background:#a4a4a4"></div>
<div class="t" style="left:16px;top:164.4px;font-size:6.3px">Best Solution:</div>
<div class="a" style="left:16px;top:173px;width:518.5px;height:22px;background:#fff"></div>
<div class="a" style="left:16px;top:173px;width:518.5px;height:11px;background:#dce6f0"></div>
<div class="a" style="left:16px;top:173px;width:518.5px;height:1px;background:#5c5c5c"></div>
<div class="a" style="left:16px;top:184px;width:518.5px;height:1px;background:#5c5c5c"></div>
<div class="a" style="left:16px;top:195px;width:518.5px;height:1px;background:#5c5c5c"></div>
<div class="a" style="left:16px;top:173px;width:1px;height:23px;background:#5c5c5c"></div>
<div class="a" style="left:203px;top:173px;width:1px;height:23px;background:#5c5c5c"></div>
<div class="a" style="left:533.5px;top:173px;width:1px;height:23px;background:#5c5c5c"></div>
<div class="t c" style="left:49.50px;top:176.5px;color:#2a2f84;font-size:6.3px;transform:scaleX(0.88)">Objectives</div>
<div class="t c" style="left:308.25px;top:176.5px;color:#2a2f84;font-size:6.3px;transform:scaleX(0.88)">Value</div>
<div class="t" style="left:18.8px;top:187.9px;">Maximize the Mean of NPV</div>
<div class="t r" style="right:18.00px;top:187.9px;">3 821 634,23</div>
<div class="a" style="left:16px;top:207px;width:518.5px;height:22px;background:#fff"></div>
<div class="a" style="left:16px;top:207px;width:518.5px;height:11px;background:#dce6f0"></div>
<div class="a" style="left:16px;top:207px;width:518.5px;height:1px;background:#5c5c5c"></div>
<div class="a" style="left:16px;top:218px;width:518.5px;height:1px;background:#5c5c5c"></div>
<div class="a" style="left:16px;top:229px;width:518.5px;height:1px;background:#5c5c5c"></div>
<div class="a" style="left:16px;top:207px;width:1px;height:23px;background:#5c5c5c"></div>
<div class="a" style="left:203px;top:207px;width:1px;height:23px;background:#5c5c5c"></div>
<div class="a" style="left:533.5px;top:207px;width:1px;height:23px;background:#5c5c5c"></div>
<div class="t c" style="left:49.50px;top:210.5px;color:#2a2f84;font-size:6.3px;transform:scaleX(0.88)">Requirements</div>
<div class="t c" style="left:308.25px;top:210.5px;color:#2a2f84;font-size:6.3px;transform:scaleX(0.88)">Value</div>
<div class="a" style="left:21.1px;top:209.6px;width:7.4px;height:6.8px;border:1px solid #c8c8c8;background:#fcfcfc"></div>
<div class="a" style="left:22.9px;top:212.6px;width:3.9px;height:1.1px;background:#484848"></div>
<div class="t" style="left:18.8px;top:221.9px;">The Standard Deviation of NPV must be less than or equal to 123 000,0...</div>
<div class="t r" style="right:18.00px;top:221.9px;">122 993,68</div>
<div class="a" style="left:16px;top:240px;width:518.5px;height:34px;background:#fff"></div>
<div class="a" style="left:16px;top:240px;width:518.5px;height:12px;background:#dce6f0"></div>
<div class="a" style="left:16px;top:240px;width:518.5px;height:1px;background:#5c5c5c"></div>
<div class="a" style="left:16px;top:252px;width:518.5px;height:1px;background:#5c5c5c"></div>
<div class="a" style="left:16px;top:263px;width:518.5px;height:1px;background:#5c5c5c"></div>
<div class="a" style="left:16px;top:274px;width:518.5px;height:1px;background:#5c5c5c"></div>
<div class="a" style="left:16px;top:240px;width:1px;height:35px;background:#5c5c5c"></div>
<div class="a" style="left:203px;top:240px;width:1px;height:35px;background:#5c5c5c"></div>
<div class="a" style="left:360px;top:240px;width:1px;height:35px;background:#5c5c5c"></div>
<div class="a" style="left:376px;top:240px;width:1px;height:35px;background:#5c5c5c"></div>
<div class="a" style="left:533.5px;top:240px;width:1px;height:35px;background:#5c5c5c"></div>
<div class="t c" style="left:49.50px;top:243.5px;color:#2a2f84;font-size:6.3px;transform:scaleX(0.88)">Constraints</div>
<div class="t c" style="left:221.50px;top:243.5px;color:#2a2f84;font-size:6.3px;transform:scaleX(0.88)">Left Side</div>
<div class="t c" style="left:394.75px;top:243.5px;color:#2a2f84;font-size:6.3px;transform:scaleX(0.88)">Right Side</div>
<div class="a" style="left:21.1px;top:242.6px;width:7.4px;height:6.8px;border:1px solid #c8c8c8;background:#fcfcfc"></div>
<div class="a" style="left:22.9px;top:245.6px;width:3.9px;height:1.1px;background:#484848"></div>
<div class="t" style="left:18.8px;top:255.9px;">Sim!E64 &lt;= Sim!F14</div>
<div class="t r" style="right:191.50px;top:255.9px;">7129,8691900241</div>
<div class="t c" style="left:308.30px;top:255.9px;">&lt;=</div>
<div class="t r" style="right:18.00px;top:255.9px;">7300</div>
<div class="t" style="left:18.8px;top:266.9px;">Sim!E63 &gt;= Sim!E14</div>
<div class="t r" style="right:191.50px;top:266.9px;">7129,8691900241</div>
<div class="t c" style="left:308.30px;top:266.9px;">&gt;=</div>
<div class="t r" style="right:18.00px;top:266.9px;">7100</div>
<div class="a" style="left:16px;top:286px;width:518.5px;height:45px;background:#fff"></div>
<div class="a" style="left:16px;top:286px;width:518.5px;height:11px;background:#dce6f0"></div>
<div class="a" style="left:16px;top:286px;width:518.5px;height:1px;background:#5c5c5c"></div>
<div class="a" style="left:16px;top:297px;width:518.5px;height:1px;background:#5c5c5c"></div>
<div class="a" style="left:16px;top:309px;width:518.5px;height:1px;background:#5c5c5c"></div>
<div class="a" style="left:16px;top:320px;width:518.5px;height:1px;background:#5c5c5c"></div>
<div class="a" style="left:16px;top:331px;width:518.5px;height:1px;background:#5c5c5c"></div>
<div class="a" style="left:16px;top:286px;width:1px;height:46px;background:#5c5c5c"></div>
<div class="a" style="left:203px;top:286px;width:1px;height:46px;background:#5c5c5c"></div>
<div class="a" style="left:533.5px;top:286px;width:1px;height:46px;background:#5c5c5c"></div>
<div class="t c" style="left:49.50px;top:289.5px;color:#2a2f84;font-size:6.3px;transform:scaleX(0.88)">Decision Variables</div>
<div class="t c" style="left:308.25px;top:289.5px;color:#2a2f84;font-size:6.3px;transform:scaleX(0.88)">Value</div>
<div class="a" style="left:21.1px;top:288.6px;width:7.4px;height:6.8px;border:1px solid #c8c8c8;background:#fcfcfc"></div>
<div class="a" style="left:22.9px;top:291.6px;width:3.9px;height:1.1px;background:#484848"></div>
<div class="t" style="left:18.8px;top:300.9px;">QA</div>
<div class="t r" style="right:18.00px;top:300.9px;">895,00</div>
<div class="t" style="left:18.8px;top:312.9px;">QB</div>
<div class="t r" style="right:18.00px;top:312.9px;">88,0</div>
<div class="t" style="left:18.8px;top:323.9px;">QC</div>
<div class="t r" style="right:18.00px;top:323.9px;">152,0</div>
</body></html>
